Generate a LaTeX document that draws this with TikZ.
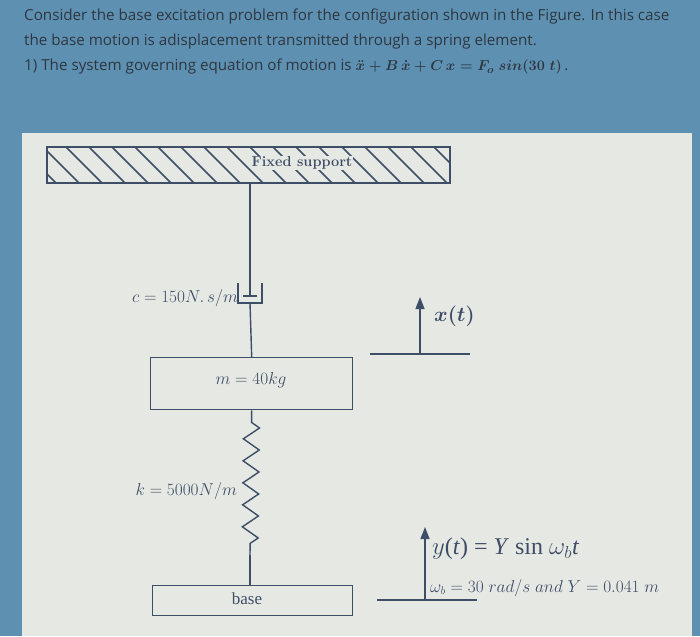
\documentclass[tikz,border=0pt]{standalone}
\usepackage{amsmath}
\usepackage{fontspec}
\newfontfamily\hdr{Open Sans}
\newfontfamily\tms{Liberation Serif}
\usetikzlibrary{decorations.pathmorphing,arrows.meta}
\definecolor{bgblue}{HTML}{5E90B2}
\definecolor{panel}{HTML}{E6E8E3}
\definecolor{ink}{HTML}{3E4E66}
\definecolor{htext}{HTML}{2E3740}
\begin{document}
\begin{tikzpicture}[x=1pt,y=-1pt,
  ln/.style={draw=ink,line width=1.4pt},
  lbl/.style={text=ink,inner sep=0pt,font=\fontsize{17.5}{19}\selectfont},
  hd/.style={anchor=west,text=htext,font=\hdr\fontsize{15.2}{17}\selectfont,inner sep=0}]
\fill[bgblue] (0,0) rectangle (700,636);
\fill[panel] (22,133) rectangle (692,636);
\node[hd] (h1) at (24,17) {Consider the base excitation problem for the configuration shown in the Figure. In this case};
\node[hd] (h2) at (24,42) {the base motion is adisplacement transmitted through a spring element.};
\node[hd] (h3) at (24,67) {1) The system governing equation of motion is $\boldsymbol{\ddot x+B\,\dot x+C\,x=F_o\;sin(30\;t)}$\,.};
% fixed support
\node[ln,minimum width=403pt,minimum height=36pt,inner sep=0,anchor=north west] (sup) at (47,147) {};
\begin{scope}
\clip (47,147) rectangle (450,183);
\foreach \i in {0,...,20} \draw[ink,line width=1.6pt] (20+\i*23,147) -- ++(36,36);
\end{scope}
\draw[ln] (47,147) rectangle (450,183);
\node[lbl,font=\bfseries\fontsize{14.5}{16}\selectfont,fill=panel,inner sep=1pt] (fs) at (302,163) {Fixed support};
% dashpot
\coordinate (pist) at (250,296);
\draw[ln] (250,183) -- (pist);
\draw[ln] (243,296) -- (257,296);
\draw[ln] (238,283) -- (238,303) -- (262,303) -- (262,283);
% mass
\node[ln,minimum width=202pt,minimum height=52pt,inner sep=0,anchor=north west] (m) at (150,357) {};
\node[lbl] (ml) at (251,380) {$m=40kg$};
\draw[ln] (250,303) -- (m.north);
% spring
\coordinate (s1) at (250,555);
\draw[ln,decorate,decoration={zigzag,segment length=22pt,amplitude=8pt,pre length=12pt,post length=10pt}] (m.south) -- (s1);
\node[ln,minimum width=200pt,minimum height=30pt,inner sep=0,anchor=north west] (b) at (152,585) {};
\node[lbl,font=\tms\fontsize{17}{19}\selectfont] (bl) at (247,599) {base};
\draw[ln] (s1) -- (250,585);
\node[lbl,anchor=east] (cl) at (238,298) {$c=150N.\,s/m$};
\node[lbl,anchor=east] (kl) at (237,491) {$k=5000N/m$};
% x(t)
\coordinate (xg1) at (370,354); \coordinate (xg2) at (470,354);
\coordinate (xb) at (420,354); \coordinate (xt) at (420,297);
\draw[ln] (xg1) -- (xg2);
\draw[ln,-{Triangle[length=12pt,width=9pt]}] (xb) -- (xt);
\node[lbl,font=\fontsize{21}{23}\selectfont,anchor=west] (xl) at (434,316) {$\boldsymbol{x(t)}$};
% y(t)
\coordinate (yg1) at (377,600); \coordinate (yg2) at (477,600);
\coordinate (yb) at (425,600); \coordinate (yt) at (425,527);
\draw[ln] (yg1) -- (yg2);
\draw[ln,-{Triangle[length=12pt,width=9pt]}] (yb) -- (yt);
\node[lbl,font=\tms\fontsize{24}{26}\selectfont,anchor=west] (yl) at (432,549) {$y$(\textit{t}) = \textit{Y} sin $\omega_{b}$\textit{t}};
\node[lbl,font=\fontsize{16}{18}\selectfont,anchor=west] (wl) at (430,588) {$\omega_b=30\;rad/s\;and\;Y=0.041\;m$};
\end{tikzpicture}
\end{document}
